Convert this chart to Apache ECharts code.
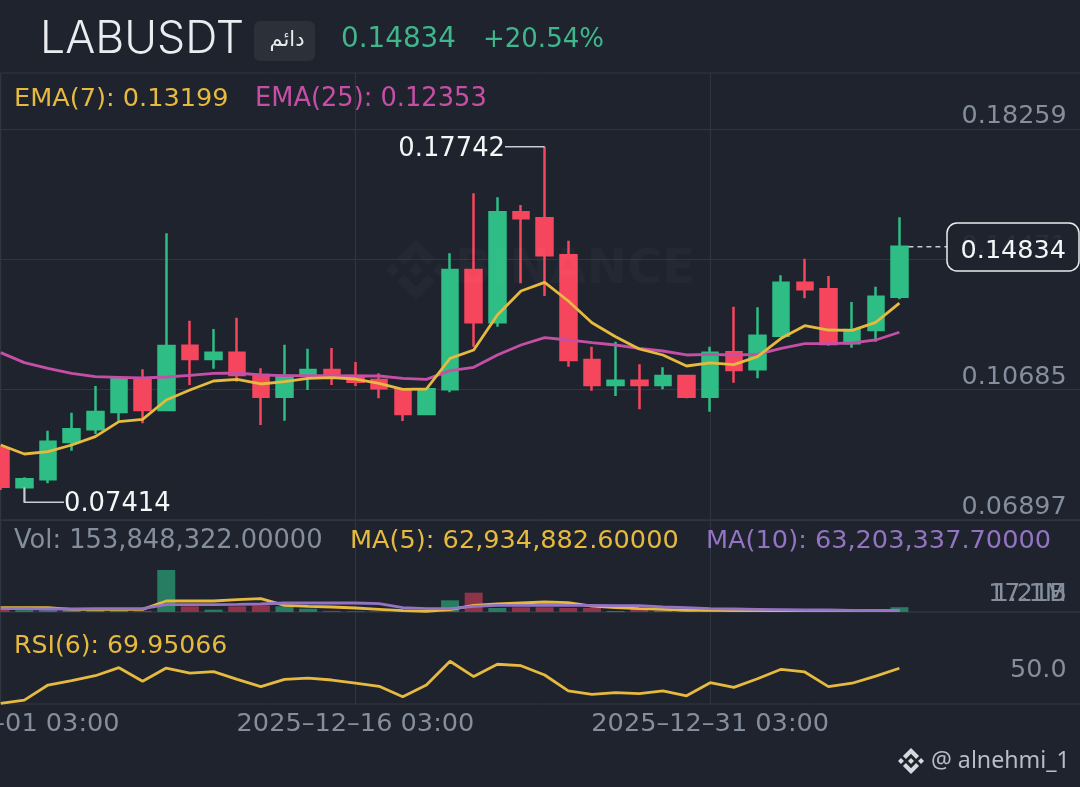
<!DOCTYPE html>
<html><head><meta charset="utf-8">
<style>html,body{margin:0;padding:0;background:#1e232e}#c{width:1080px;height:787px}</style>
<script src="https://cdn.jsdelivr.net/npm/echarts@6/dist/echarts.min.js"></script>
</head><body><div id="c"></div>
<script>
const days = ['12-01','12-02','12-03','12-04','12-05','12-06','12-07','12-08','12-09','12-10','12-11','12-12','12-13','12-14','12-15','12-16','12-17','12-18','12-19','12-20','12-21','12-22','12-23','12-24','12-25','12-26','12-27','12-28','12-29','12-30','12-31','01-01','01-02','01-03','01-04','01-05','01-06','01-07','01-08','01-09','01-10','01-11','01-12','01-13','01-14','01-15','01-16'];
const open  = [.08980,.07847,.08080,.09164,.09533,.10035,.10965,.10093,.11962,.11575,.11758,.11110,.10480,.11081,.11256,.11081,.10965,.10695,.09977,.10695,.14162,.12642,.15838,.15664,.14589,.11546,.10820,.10945,.10820,.11081,.10480,.11770,.11276,.12253,.13793,.13601,.12032,.12418,.13386];
const close = [.07865,.08080,.09172,.09533,.10035,.11015,.10093,.11953,.11575,.11758,.11110,.10480,.11081,.11256,.11061,.10916,.10724,.09977,.10695,.14162,.12642,.15838,.15664,.14589,.11546,.10820,.10945,.10820,.11081,.10480,.11758,.11256,.12253,.13793,.13601,.12011,.12418,.13386,.14834];
const low   = [.07769,.07414,.07963,.08911,.09396,.09783,.09707,.10090,.10820,.11294,.10916,.09657,.09783,.10675,.10820,.10791,.10433,.09774,.09977,.10608,.11933,.12514,.13775,.13406,.11352,.10654,.10500,.10114,.10695,.10433,.10044,.10887,.11015,.12253,.13339,.11962,.11904,.12078,.13310];
const high  = [.09047,.08138,.09492,.10015,.10791,.11081,.11276,.15228,.12688,.12447,.12776,.11305,.11991,.11875,.11895,.11488,.11160,.10695,.10695,.14647,.16391,.16274,.16051,.17742,.15013,.11933,.12078,.11421,.11334,.11102,.11933,.13095,.13078,.14008,.14490,.13987,.13232,.13676,.15693];
const ema7  = [.09076,.08815,.08883,.09076,.09319,.09754,.09822,.10384,.10675,.10936,.10985,.10849,.10917,.11014,.11033,.10994,.10868,.10694,.10704,.11595,.11837,.12854,.13551,.13803,.13261,.12631,.12224,.11866,.11692,.11372,.11465,.11411,.11643,.12176,.12544,.12418,.12409,.12641,.13199];
const ema25 = [.11760,.11469,.11304,.11159,.11062,.11043,.11023,.11052,.11101,.11159,.11169,.11111,.11091,.11091,.11091,.11081,.11081,.11014,.10985,.11236,.11333,.11692,.11982,.12195,.12128,.12050,.11982,.11885,.11808,.11692,.11711,.11692,.11711,.11885,.12021,.12021,.12040,.12128,.12353];
const volume = [90e6,70e6,65e6,65e6,65e6,60e6,50e6,1210e6,178e6,83e6,178e6,197e6,178e6,112e6,50e6,40e6,35e6,30e6,35e6,349e6,566e6,131e6,150e6,150e6,131e6,131e6,45e6,131e6,50e6,40e6,60e6,45e6,40e6,50e6,40e6,45e6,35e6,40e6,153848322];
const volMa5 = [140e6,140e6,140e6,93e6,93e6,93e6,93e6,330e6,330e6,330e6,367e6,396e6,206e6,178e6,159e6,131e6,93e6,55e6,36e6,83e6,206e6,244e6,273e6,301e6,282e6,187e6,140e6,112e6,93e6,64e6,64e6,55e6,55e6,55e6,60e6,60e6,60e6,62e6,62934882];
const volMa10 = [112e6,112e6,102e6,102e6,112e6,112e6,112e6,225e6,225e6,225e6,234e6,244e6,273e6,273e6,273e6,273e6,253e6,140e6,112e6,112e6,178e6,206e6,206e6,206e6,206e6,206e6,197e6,197e6,159e6,140e6,112e6,102e6,93e6,83e6,74e6,74e6,64e6,64e6,63203337];
const rsi = [50.4,52.2,60.6,63.0,65.8,70.3,62.7,70.1,67.3,68.1,63.8,59.7,63.8,64.5,63.4,61.7,59.9,54.1,60.6,73.9,65.3,72.2,71.4,66.2,57.3,55.4,56.3,55.8,57.3,54.6,61.9,59.3,64.1,69.4,67.9,59.7,61.6,65.6,69.95];
const priceTicks = [.06897,.10685,.14471,.18259];
const rsiTicks = [50];
const hiVal = .17742, loVal = .07414, lastVal = .14834;

const FONT = '"DejaVu Sans", sans-serif';
const BG = '#1e232e', GRID = '#30363f', GREY = '#848e9c';
const UP = '#2ebd85', DOWN = '#f6465d';
const YEL = '#e6b93f', MAG = '#c64fa6', PUR = '#9474c2';
const cats = days.map((d,i)=> (i<31?'2025-':'2026-') + d + ' 03:00');
const vTick = i => i%15===0 && i<45;

const LEFT = 0.7, W = 1087.9;
const grids = [[73,447],[520,92],[612,92]].map(([top,height])=>({left:LEFT,width:W,top,height,show:true,outerBoundsMode:'none',containLabel:false,borderColor:GRID,borderWidth:1,backgroundColor:'transparent'}));
const xAxes = [0,1,2].map(g=>({type:'category',gridIndex:g,data:cats,boundaryGap:false,
  axisLine:{show:false},axisTick:{show:false},
  splitLine:{show:true,interval:(i)=>vTick(i),lineStyle:{color:GRID,width:1}},
  axisLabel:{show:g===2,interval:(i)=>vTick(i),color:GREY,fontFamily:FONT,fontSize:25.6,margin:7,
    formatter:v=>v.replace(/-/g,'\u2013')}}));
const yLabel = (extra)=>Object.assign({show:true,inside:true,margin:22,color:GREY,fontFamily:FONT,fontSize:25.4,align:'right',verticalAlign:'bottom'},extra);
const volAxis = (fmt)=>({type:'value',gridIndex:1,position:'right',min:17.1e6,max:2630e6,
  axisLine:{show:false},axisTick:{show:false,customValues:[17.1e6]},splitLine:{show:false},
  axisLabel:yLabel({customValues:[17.1e6],padding:[0,0,5,0],formatter:()=>fmt})});
const yAxes = [
 {type:'value',gridIndex:0,position:'right',min:.068969,max:.198863,
  axisLine:{show:false},axisTick:{show:false,customValues:priceTicks},
  splitLine:{show:true,lineStyle:{color:GRID,width:1}},
  axisLabel:yLabel({customValues:priceTicks,formatter:v=>v.toFixed(5)})},
 volAxis('17.1M'),
 volAxis('1.21B'),
 {type:'value',gridIndex:2,position:'right',min:50,max:101.4,
  axisLine:{show:false},axisTick:{show:false,customValues:rsiTicks},splitLine:{show:false},
  axisLabel:yLabel({customValues:rsiTicks,padding:[0,0,21,0],formatter:v=>v.toFixed(1)})}
];
const line=(name,data,color,x,y,width)=>({name,type:'line',data,xAxisIndex:x,yAxisIndex:y,showSymbol:false,smooth:false,
  lineStyle:{color,width:width||2.8},itemStyle:{color},z:5,silent:true});

const chart = echarts.init(document.getElementById('c'),null,{renderer:'canvas'});
chart.setOption({
 animation:false,backgroundColor:BG,grid:grids,xAxis:xAxes,yAxis:yAxes,
 series:[
  {name:'LABUSDT',type:'candlestick',xAxisIndex:0,yAxisIndex:0,barWidth:16,
   data:open.map((o,i)=>[o,close[i],low[i],high[i]]),
   itemStyle:{color:UP,color0:DOWN,borderColor:UP,borderColor0:DOWN,borderWidth:2.5},z:3},
  line('EMA(25)',ema25,MAG,0,0),
  line('EMA(7)',ema7,YEL,0,0),
  {name:'Vol',type:'bar',xAxisIndex:1,yAxisIndex:1,barWidth:18,
   data:volume.map((v,i)=>({value:v,itemStyle:{color:close[i]>=open[i]?'#267d62':'#8f3349'}})),z:2},
  line('MA(5)',volMa5,YEL,1,1),
  line('MA(10)',volMa10,PUR,1,1),
  line('RSI(6)',rsi,YEL,2,3)
 ]
});
const px = v=>chart.convertToPixel({yAxisIndex:0},v);
const xp = i=>chart.convertToPixel({xAxisIndex:0},i);
const T=(x,y,text,fill,size,o)=>({type:'text',x,y,silent:true,z:100,style:Object.assign({text,fill,fontSize:size,fontFamily:FONT,verticalAlign:'middle',align:'left'},o||{})});
const L=(pts,stroke,dash)=>({type:'polyline',silent:true,z:96,shape:{points:pts},style:{stroke,lineWidth:1.5,fill:null,lineDash:dash||null}});
// Binance mark made of polygons on a 24-unit square
const MARK=[[[7.3,10.08],[12,5.4],[16.7,10.1],[19.44,7.36],[12,0],[4.56,7.34]],[[0,12],[2.74,9.26],[5.47,12],[2.74,14.74]],[[7.3,13.92],[12,18.6],[16.7,13.9],[19.44,16.63],[12,24],[4.56,16.63]],[[18.53,12],[21.26,9.26],[24,12],[21.26,14.74]],[[14.77,12],[12,9.22],[9.23,12],[12,14.78]]];
const logo=(x,y,size,fill,z)=>MARK.map(p=>({type:'polygon',silent:true,z,shape:{points:p.map(([a,b])=>[x+a*size/24,y+b*size/24])},style:{fill}}));
const hy=px(hiVal), ly=px(loVal), ty=px(lastVal), hx=xp(23), lx=xp(1), lastx=xp(38);
chart.setOption({graphic:{elements:[
 ...logo(386,240,60,'rgba(255,255,255,0.022)',1),
 T(455,271,'BINANCE','rgba(255,255,255,0.024)',48,{fontWeight:700}),
 T(40,40,'LABUSDT','#eaecef',44.6,{fontFamily:'Inter, sans-serif',fontWeight:300}),
 {type:'rect',silent:true,z:95,shape:{x:254,y:21,width:61,height:40,r:6},style:{fill:'#2b3039'}},
 T(287,41,'دائم','#eaecef',21,{align:'center'}),
 T(341,40,'0.14834','#3fb68b',27.8),
 T(483,40,'+20.54%','#3fb68b',26),
 T(14,99,'EMA(7): 0.13199',YEL,25.6),
 T(255,99,'EMA(25): 0.12353',MAG,25.7),
 T(14,541,'Vol: 153,848,322.00000',GREY,25.7),
 T(350,541,'MA(5): 62,934,882.60000',YEL,25.6),
 T(706,541,'MA(10): 63,203,337.70000',PUR,25.6),
 T(14,646,'RSI(6): 69.95066',YEL,25.2),
 L([[hx,hy],[505,hy]],'#c8ccd2'),
 T(505,hy+2,'0.17742','#f5f6f7',25.8,{align:'right'}),
 L([[lx,px(.07847)],[lx,ly],[64,ly]],'#c8ccd2'),
 T(64,ly+2,'0.07414','#f5f6f7',25.8),
 L([[lastx+9,ty],[947,ty]],'#c8ccd2',[5,4]),
 {type:'rect',silent:true,z:97,shape:{x:947,y:223,width:132,height:48,r:10},style:{fill:'rgba(30,35,46,0.9)',stroke:'#eaecef',lineWidth:1.5}},
 T(1066,ty+5,'0.14834','#f5f6f7',25.5,{align:'right'}),
 ...logo(898,748,26,'#d5d8dc',100),
 T(931,761,'@ alnehmi_1','#b7bdc6',23.2,{fontFamily:'"Noto Sans", sans-serif'})
]}});
</script></body></html>
